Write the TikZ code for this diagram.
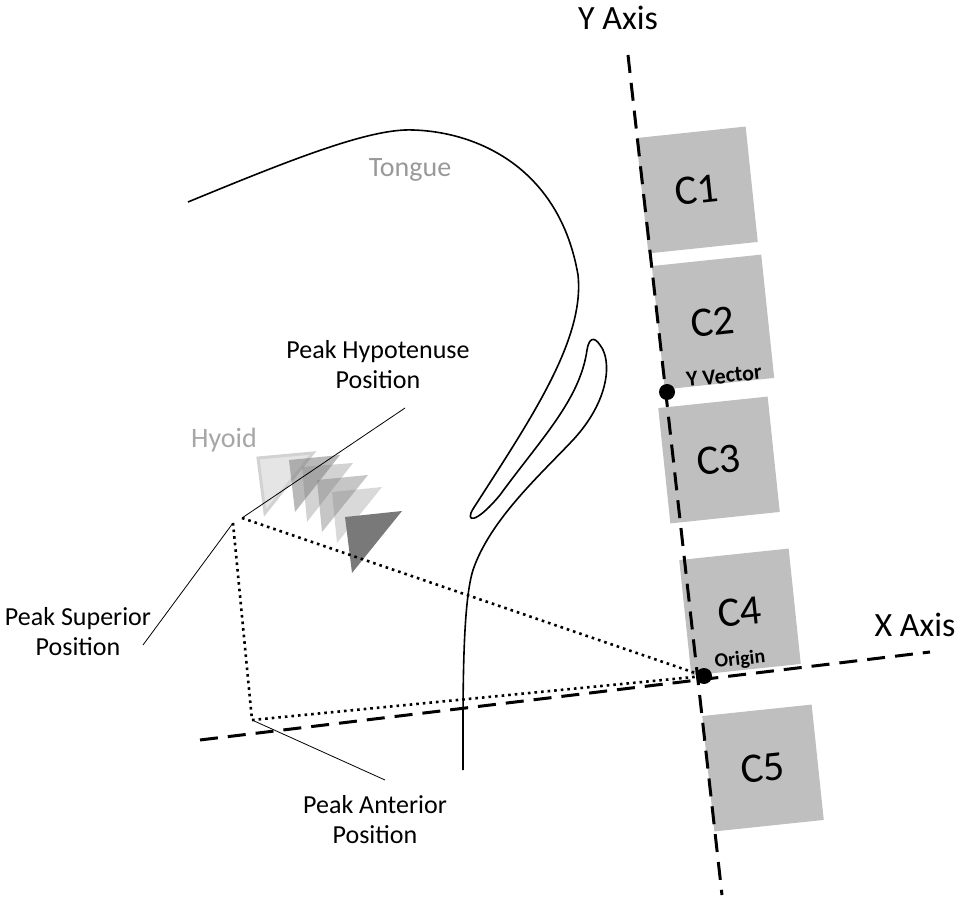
\documentclass[tikz,border=0pt]{standalone}
\usepackage{fontspec}
\setmainfont{Carlito}
\begin{document}
\begin{tikzpicture}[x=0.5pt,y=-0.5pt,
  lbl/.style={align=center,font=\fontsize{13}{15}\selectfont},
  vert/.style={fill=gray!50,minimum width=55pt,minimum height=58pt,rotate=6,font=\fontsize{21}{24}\selectfont,inner sep=0pt},
  axis/.style={line width=1.5pt,dash pattern=on 9pt off 5pt},
  dotl/.style={line width=1.3pt,dotted},
  tri/.style={draw=none}]
\useasboundingbox (0,0) rectangle (969,914);
% vertebrae
\node[vert] (c1) at (697,190) {C1};
\node[vert,minimum height=62pt] (c2) at (713,322) {C2};
\node[vert] (c3) at (719,460) {C3};
\node[vert] (c4) at (740,612) {C4};
\node[vert] (c5) at (763,768) {C5};
% axes
\coordinate (yt) at (628,55);
\coordinate (yb) at (722,895);
\coordinate (xl) at (200,740);
\coordinate (xr) at (930,652);
\draw[axis] (yt) -- (yb);
\draw[axis] (xl) -- (xr);
\node[font=\fontsize{17}{20}\selectfont] (ylab) at (618,18) {Y Axis};
\node[font=\fontsize{17}{20}\selectfont] (xlab) at (915,625) {X Axis};
\node[circle,fill,inner sep=0pt,minimum size=8pt] (yv) at (667,392) {};
\node[circle,fill,inner sep=0pt,minimum size=8pt] (o) at (704,676) {};
\node[font=\bfseries\fontsize{11}{13}\selectfont,rotate=6] (yvl) at (724,376) {Y Vector};
\node[font=\bfseries\fontsize{10}{12}\selectfont,rotate=6] (ol) at (740,660) {Origin};
% tongue
\draw[line width=0.8pt] (188,202) .. controls (290,160) and (370,128) .. (413,130)
  .. controls (480,132) and (560,170) .. (578,275)
  .. controls (585,340) and (530,420) .. (473,509)
  .. controls (465,522) and (475,525) .. (500,495)
  .. controls (540,440) and (580,400) .. (587,350)
  .. controls (589,338) and (594,336) .. (600,345)
  .. controls (612,360) and (610,400) .. (573,440)
  .. controls (540,475) and (490,520) .. (473,570)
  .. controls (462,605) and (463,700) .. (463,770);
\node[text=gray!80,font=\fontsize{14}{16}\selectfont] (tl) at (410,170) {Tongue};
\node[text=gray!70,font=\fontsize{14}{16}\selectfont] (hl) at (224,440) {Hyoid};
% hyoid
\fill[gray!20,draw=gray!35,line width=1.5pt] (258,458) -- (313,453) -- (265,513) -- cycle;
\fill[gray,opacity=0.55] (289,460) -- (340,455) -- (295,512) -- cycle;
\fill[gray,opacity=0.35] (302,467) -- (353,463) -- (307,522) -- cycle;
\fill[gray,opacity=0.45] (317,480) -- (368,475) -- (322,532) -- cycle;
\fill[gray,opacity=0.3] (332,492) -- (382,487) -- (337,543) -- cycle;
\fill[gray!100!black,opacity=1,fill=gray!95!black] (345,517) -- (402,511) -- (352,573) -- cycle;
% peak positions
\coordinate (ps) at (233,523);
\coordinate (ph) at (242,518);
\coordinate (pa) at (252,720);
\draw[dotl] (ps) -- (pa);
\draw[dotl] (ph) -- (o);
\draw[dotl] (pa) -- (o);
\coordinate (he) at (405,408);
\coordinate (se) at (143,645);
\coordinate (ae) at (385,780);
\draw (ph) -- (he);
\draw (ps) -- (se);
\draw (pa) -- (ae);
\node[lbl] (hyp) at (378,365) {Peak Hypotenuse\\Position};
\node[lbl] (sup) at (78,632) {Peak Superior\\Position};
\node[lbl] (ant) at (375,820) {Peak Anterior\\Position};
\end{tikzpicture}
\end{document}
